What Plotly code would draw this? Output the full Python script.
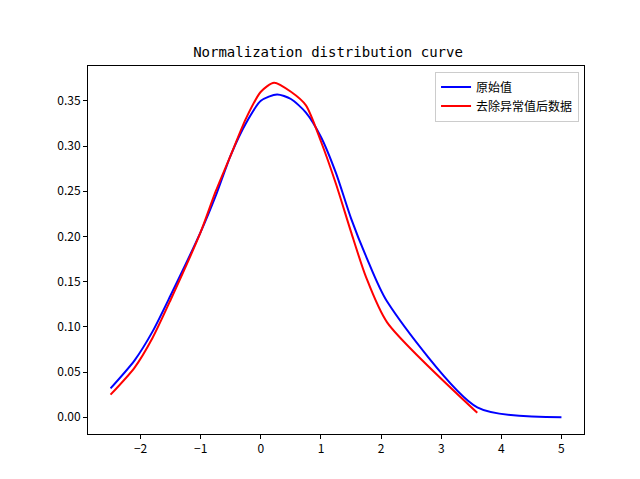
import plotly.graph_objects as go

blue_x = [-2.5, -2.1, -1.8, -1.5, -1.0, -0.75, -0.5, -0.25, 0.0, 0.27, 0.5, 0.75, 1.0, 1.25, 1.5, 1.75, 2.1, 3.6, 5.0]
blue_y = [0.032, 0.063, 0.095, 0.135, 0.205, 0.245, 0.29, 0.325, 0.35, 0.357, 0.352, 0.337, 0.31, 0.27, 0.22, 0.178, 0.128, 0.011, 0.0]
red_x = [-2.5, -2.1, -1.8, -1.5, -1.0, -0.75, -0.5, -0.25, 0.0, 0.22, 0.5, 0.75, 1.0, 1.25, 1.5, 1.75, 2.1, 3.6]
red_y = [0.025, 0.055, 0.088, 0.13, 0.205, 0.25, 0.29, 0.33, 0.36, 0.37, 0.36, 0.345, 0.305, 0.258, 0.205, 0.155, 0.105, 0.005]

fig = go.Figure()
fig.add_trace(go.Scatter(x=blue_x, y=blue_y, mode="lines", name="原始值",
                         line=dict(color="blue", width=2, shape="spline", smoothing=0.7)))
fig.add_trace(go.Scatter(x=red_x, y=red_y, mode="lines", name="去除异常值后数据",
                         line=dict(color="red", width=2, shape="spline", smoothing=0.7)))

ax = dict(showgrid=False, zeroline=False, showline=True, mirror=True, linecolor="black", linewidth=1,
          ticks="outside", ticklen=4, tickcolor="black", tickfont=dict(size=12, color="black"), automargin=False)
fig.update_layout(
    width=640, height=479, paper_bgcolor="white", plot_bgcolor="white",
    margin=dict(l=80, r=64, t=58, b=53, autoexpand=False),
    font=dict(family="Noto Sans CJK SC, DejaVu Sans", color="black"),
    title=dict(text="Normalization distribution curve", x=0.5, xanchor="center", y=0.908, yanchor="middle",
               font=dict(size=14, family="DejaVu Sans Mono, Noto Sans CJK SC")),
    xaxis=dict(range=[-2.875, 5.375], tickvals=[-2, -1, 0, 1, 2, 3, 4, 5], ticktext=["−2", "−1", "0", "1", "2", "3", "4", "5"], **ax),
    yaxis=dict(range=[-0.0185, 0.3885], tickvals=[0, 0.05, 0.1, 0.15, 0.2, 0.25, 0.3, 0.35], tickformat=".2f", **ax),
    legend=dict(x=0.99, y=0.985, xanchor="right", yanchor="top", bordercolor="#cccccc", borderwidth=1,
                bgcolor="rgba(255,255,255,0.8)", font=dict(size=12), tracegroupgap=0),
    showlegend=True,
)
fig.write_html("out.html")
